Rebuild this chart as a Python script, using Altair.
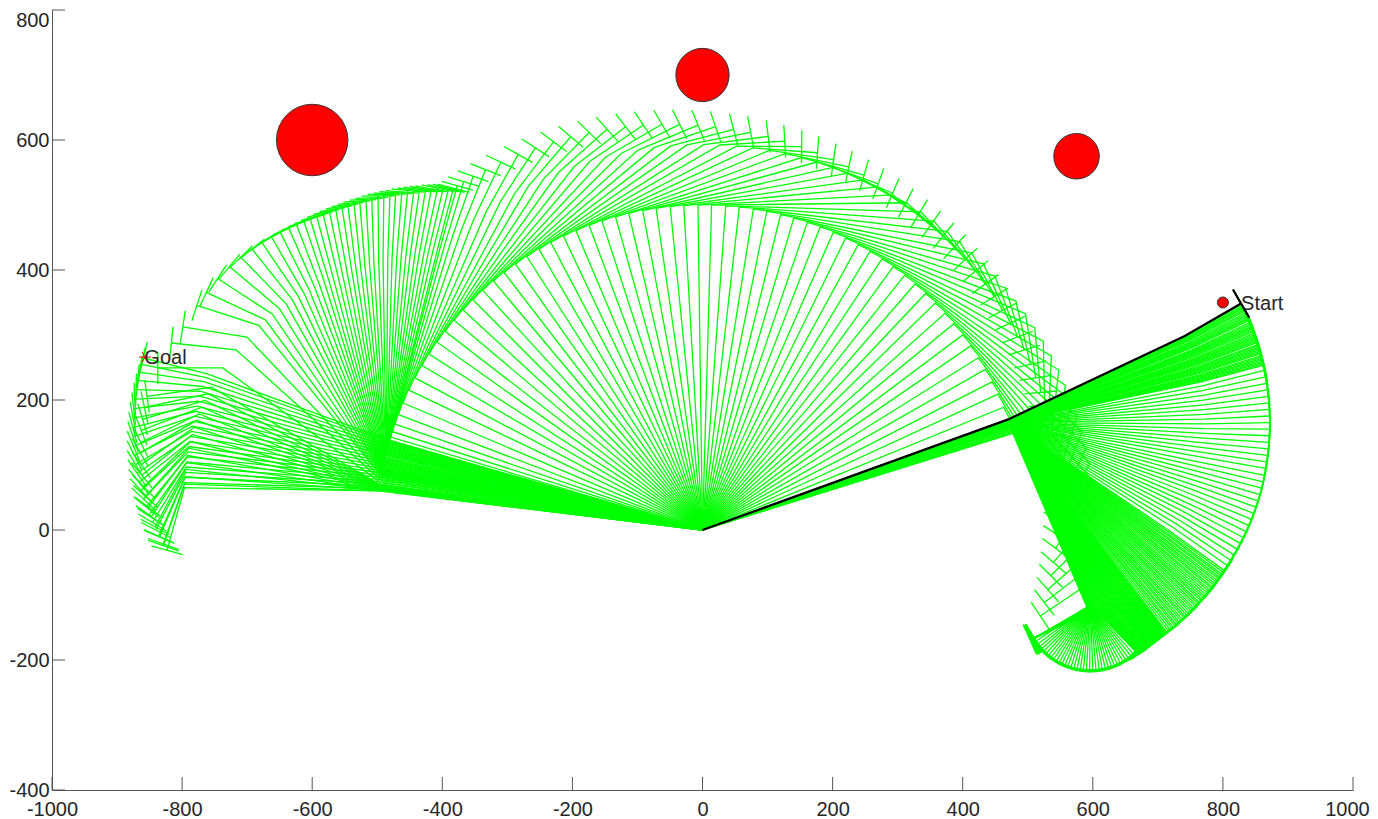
import math
import altair as alt
import pandas as pd

# Link lengths and bar half-length (data units)
L1, L2, L3, BAR = 500, 300, 100, 25

# Joint angles in degrees, pose by pose
# Sweep of link 2 and 3 with link 1 nearly fixed
th1_a = [19.9]*7+[19.8]*7+[19.7]*8+[19.6]*8+[19.5]*8+[19.4]*8
th2_a = [25.3,25.0,24.7,24.4,24.1,23.8,23.5,23.2,22.9,22.6,22.3,22.0,21.7,21.4,21.1,20.8,20.5,20.2,19.9,19.6,19.3,19.0,18.7,18.4,18.1,17.8,17.5,17.2,16.9,16.6,16.3,16.0,15.7,15.4,15.1,14.8,14.5,14.2,13.9,13.6,13.3,13.0,12.7,12.4,12.1,11.8]
th3_a = [30.0,29.7,29.3,29.0,28.7,28.3,28.0,27.7,27.3,27.0,26.7,26.3,26.0,25.7,25.3,25.0,24.7,24.3,24.0,23.7,23.3,23.0,22.7,22.3,22.0,21.7,21.3,21.0,20.7,20.3,20.0,19.7,19.3,19.0,18.7,18.3,18.0,17.7,17.3,17.0,16.7,16.3,16.0,15.7,15.3,15.0]

th1_b = [19.3]*16+[19.2]*17
th2_b = [10.8,9.4,8.0,6.6,5.2,3.8,2.4,1.0,-0.4,-1.8,-3.2,-4.6,-6.0,-7.4,-8.8,-10.2,-11.6,-13.0,-14.4,-15.8,-17.2,-18.6,-20.0,-21.4,-22.8,-24.2,-25.6,-27.0,-28.4,-29.8,-31.2,-32.6,-34.0]
th3_b = [14.0,12.4,10.8,9.2,7.6,6.0,4.4,2.8,1.2,-0.4,-2.0,-3.6,-5.2,-6.8,-8.4,-10.0,-11.6,-13.2,-14.8,-16.4,-18.0,-19.6,-21.2,-22.8,-24.4,-26.0,-27.6,-29.2,-30.8,-32.4,-33.8,-35.0,-36.0]

th1_c = [19.1]*14+[19.0]*14+[18.9]*14
th2_c = [-34.4,-34.9,-35.3,-35.8,-36.2,-36.7,-37.1,-37.6,-38.0,-38.5,-38.9,-39.4,-39.8,-40.3,-40.7,-41.2,-41.6,-42.1,-42.5,-43.0,-43.4,-43.9,-44.3,-44.8,-45.2,-45.7,-46.1,-46.6,-47.0,-47.5,-47.9,-48.4,-48.8,-49.3,-49.7,-50.2,-50.6,-51.1,-51.5,-52.0,-52.5,-53.0]
th3_c = [-36.4,-36.8,-37.2,-37.6,-38.0,-38.4,-38.8,-39.2,-39.7,-40.1,-40.5,-40.9,-41.3,-41.7,-42.1,-42.5,-42.9,-43.3,-43.7,-44.1,-44.5,-44.9,-45.3,-45.7,-46.1,-46.5,-46.9,-47.3,-47.8,-48.2,-48.6,-49.0,-49.4,-49.8,-50.2,-50.6,-51.0,-51.4,-51.8,-52.2,-52.6,-53.0]

th1_d = [18.8]*18+[18.7]*19+[18.6]*19
th2_d = [-53.2,-53.5,-53.7,-53.9,-54.2,-54.4,-54.6,-54.9,-55.1,-55.3,-55.6,-55.8,-56.0,-56.3,-56.5,-56.7,-57.0,-57.2,-57.4,-57.7,-57.9,-58.1,-58.4,-58.6,-58.8,-59.1,-59.3,-59.5,-59.8,-60.0,-60.2,-60.5,-60.7,-60.9,-61.2,-61.4,-61.6,-61.9,-62.1,-62.3,-62.6,-62.8,-63.0,-63.3,-63.5,-63.7,-64.0,-64.2,-64.4,-64.7,-64.9,-65.1,-65.4,-65.6,-65.8,-66.0]
th3_d = [-52.9,-52.8,-52.6,-52.5,-52.4,-52.3,-52.1,-52.0,-51.9,-51.8,-51.6,-51.5,-51.4,-51.3,-51.1,-51.0,-50.9,-50.8,-50.6,-50.5,-50.4,-50.3,-50.1,-50.0,-49.9,-49.8,-49.6,-49.5,-49.4,-49.3,-49.1,-49.0,-48.9,-48.8,-48.6,-48.5,-48.4,-48.3,-48.1,-48.0,-47.9,-47.8,-47.6,-47.5,-47.4,-47.3,-47.1,-47.0,-46.9,-46.8,-46.6,-46.5,-46.4,-46.3,-46.1,-46.0]

# Fan of link 3 at the lowest point
th3_e = [-48.8,-51.6,-54.4,-57.2,-59.9,-62.7,-65.5,-68.3,-71.1,-73.9,-76.7,-79.4,-82.2,-85.0,-87.8,-90.6,-93.4,-96.2,-98.9,-101.7,-104.5,-107.3,-110.1,-112.9,-115.7,-118.4,-121.2,-124.0,-126.8,-129.6,-132.4,-135.2,-137.9,-140.7,-143.5,-146.3,-149.0,-149.8,-150.6,-151.4,-152.2,-153.0,-154.0,-155.0,-156.0]
th1_e = [18.5]*37+[18.4,18.3,18.1,17.9,17.7,17.5,17.4,17.3]
th2_e = [-66.0]*37+[-66.1,-66.2,-66.3,-66.5,-66.6,-66.8,-66.9,-67.0]

# Big swing of link 1 over the top
th1_f = [22.2,24.7,27.1,29.6,32.0,34.5,36.9,39.4,41.8,44.3,46.7,49.2,51.6,54.1,56.5,59.0,61.4,63.9,66.3,68.8,71.2,73.7,76.1,78.6,81.0,83.5,85.9,88.4,90.8,93.3,95.7,98.2,100.6,103.1,105.5,108.0,110.4,112.9,115.3,117.8,120.2,122.7,125.1,127.6,130.0,132.5,134.9,137.4,139.8,142.3,144.7,147.2,149.6,152.1,154.5,157.0,159.2,161.0,162.4,163.4,164.0]
th2_f = [-62.3,-59.9,-57.6,-55.2,-52.9,-50.5,-48.2,-45.8,-43.6,-41.2,-39.0,-36.6,-34.4,-32.0,-29.8,-27.4,-25.2,-22.8,-20.6,-18.2,-16.0,-13.6,-11.4,-8.9,-6.6,-4.1,-1.8,0.7,3.0,5.5,7.9,10.4,12.8,15.3,17.7,20.2,22.6,25.1,27.5,30.0,32.4,34.9,37.3,39.8,42.2,44.7,47.1,49.6,52.0,54.5,56.9,59.4,61.7,64.2,66.6,69.0,71.2,73.0,74.4,75.4,76.0]
th3_f = [-146.3,-142.4,-138.6,-134.8,-131.0,-127.1,-123.3,-119.4,-115.6,-111.7,-108.0,-104.0,-100.3,-96.3,-92.6,-88.7,-84.9,-81.0,-77.2,-73.3,-69.6,-65.6,-61.9,-58.0,-54.2,-50.3,-46.5,-42.6,-38.9,-35.0,-31.2,-27.3,-23.5,-19.6,-15.8,-11.9,-8.2,-4.3,-0.5,3.4,7.2,11.1,14.8,18.8,22.5,26.4,30.2,34.1,37.8,41.7,45.5,49.4,53.2,57.1,60.8,64.7,68.2,71.0,73.2,74.6,75.5]

# Sweep towards the goal side
th1_g = [164.2,164.4,164.6,164.9,165.1,165.3,165.5,165.7,166.0,166.2,166.4,166.6,166.8,167.1,167.3,167.5,167.7,167.9,168.1,168.3,168.5,168.7,168.9,169.1,169.2,169.3,169.4,169.6,169.7,169.8,169.9,170.0,170.1,170.3,170.5,170.6,170.9,171.2,171.6,172.0]
th2_g = [77.2,78.4,79.6,80.9,82.1,83.4,84.6,85.9,87.1,88.4,89.6,90.9,92.1,93.4,94.6,95.9,97.1,98.4,99.6,100.9,102.2,103.5,104.8,106.1,107.4,108.9,110.4,112.0,113.7,115.5,117.4,119.5,121.8,124.2,126.6,129.0,133.5,138.0,144.0,150.0]
th3_g = [75.8,76.9,78.1,79.3,80.5,81.8,83.0,84.3,85.5,86.8,88.0,89.3,90.6,91.9,93.2,94.6,95.9,97.3,98.7,100.2,101.8,103.4,105.0,106.8,108.6,111.0,113.6,116.6,120.0,124.0,128.5,134.0,140.0,147.0,155.0,162.0,171.0,174.0,180.0,188.0]

th1_h = [172.1,172.2,172.3,172.4,172.4,172.5,172.6,172.7,172.7,172.8,172.9,172.9,173.0,173.1,173.1]
th2_h = [152.0,154.0,156.0,158.0,160.0,162.0,164.0,166.0,168.0,170.0,172.0,174.0,176.0,178.0,179.0]
th3_h = [192.0,197.0,201.0,206.0,210.0,215.0,219.0,224.0,228.0,233.0,237.0,242.0,246.0,251.0,254.5]

th1_i = [172.7,172.3,171.9,171.5,171.1,170.7,170.3,169.9,169.5,169.1,168.7,168.3,167.9,167.5,167.1,166.7,166.3,165.9,165.5,165.1,164.7,164.3,164.0]
th2_i = [178.2,177.3,176.5,175.6,174.8,173.9,173.1,172.2,171.4,170.5,169.7,168.8,168.0,167.1,166.3,165.4,164.6,163.7,162.9,162.1,161.3,160.6,160.0]
th3_i = [250.6,246.6,242.6,238.6,234.6,230.6,226.6,222.6,218.6,214.6,210.6,206.6,202.6,198.6,194.6,190.6,186.6,182.6,178.6,174.6,171.5,168.5,166.0]

# Final pose drawn in black
black_pose = (19.9, 25.3, 30.0)

# Obstacles and markers
obs_x = [-600, 0, 575, 800]
obs_y = [600, 700, 575, 350]
obs_r = [55, 41, 35, 8.5]
label_text = ["Start", "Goal"]
label_x = [828, -858]
label_y = [348, 264]
goal_x = [-857]
goal_y = [266]
x_ticks = [-1000, -800, -600, -400, -200, 0, 200, 400, 600, 800, 1000]
y_ticks = [-400, -200, 0, 200, 400, 600, 800]

th1 = th1_a + th1_b + th1_c + th1_d + th1_e + th1_f + th1_g + th1_h + th1_i
th2 = th2_a + th2_b + th2_c + th2_d + th2_e + th2_f + th2_g + th2_h + th2_i
th3 = th3_a + th3_b + th3_c + th3_d + th3_e + th3_f + th3_g + th3_h + th3_i
assert len(th1) == len(th2) == len(th3), (len(th1), len(th2), len(th3))


def pose_rows(pid, a, b, c):
    ra, rb, rc = math.radians(a), math.radians(b), math.radians(c)
    x1, y1 = L1 * math.cos(ra), L1 * math.sin(ra)
    x2, y2 = x1 + L2 * math.cos(rb), y1 + L2 * math.sin(rb)
    x3, y3 = x2 + L3 * math.cos(rc), y2 + L3 * math.sin(rc)
    dx, dy = -BAR * math.sin(rc), BAR * math.cos(rc)
    arm = [(0, 0), (x1, y1), (x2, y2), (x3, y3)]
    rows = [{"id": f"{pid}a", "k": i, "x": p[0], "y": p[1]} for i, p in enumerate(arm)]
    rows += [
        {"id": f"{pid}b", "k": 0, "x": x3 - dx, "y": y3 - dy},
        {"id": f"{pid}b", "k": 1, "x": x3 + dx, "y": y3 + dy},
    ]
    return rows


green_rows = []
for i, (a, b, c) in enumerate(zip(th1, th2, th3)):
    green_rows += pose_rows(i, a, b, c)
green_df = pd.DataFrame(green_rows)
black_df = pd.DataFrame(pose_rows("end", *black_pose))

alt.data_transformers.disable_max_rows()

x_scale = alt.Scale(domain=[-1000, 1000], nice=False, zero=False)
y_scale = alt.Scale(domain=[-400, 800], nice=False, zero=False)
FONT = "Liberation Sans"
AXIS_COLOR = "#555555"
TEXT_COLOR = "#262626"

xq = alt.X("x:Q", scale=x_scale, axis=alt.Axis(
    values=x_ticks, title=None, grid=False, ticks=False, domainColor=AXIS_COLOR, domainWidth=1,
    labelFont=FONT, labelFontSize=20, labelColor=TEXT_COLOR, labelPadding=9, labelOverlap=False,
    labelFlush=False, labelExpr="'' + datum.value",
    labelOffset=alt.ExprRef("datum.value == 1000 ? -6 : 0")))
yq = alt.Y("y:Q", scale=y_scale, axis=alt.Axis(
    values=y_ticks, title=None, grid=False, ticks=False, domainColor=AXIS_COLOR, domainWidth=1,
    labelFont=FONT, labelFontSize=20, labelColor=TEXT_COLOR, labelPadding=3, labelOverlap=False,
    labelFlush=False, labelExpr="'' + datum.value",
    labelBaseline=alt.ExprRef("datum.value == 800 ? 'top' : 'middle'")))

green = alt.Chart(green_df).mark_line(color="#00ff00", strokeWidth=1.3, clip=False).encode(
    x=xq, y=yq, detail="id:N", order="k:Q")
black = alt.Chart(black_df).mark_line(color="#000000", strokeWidth=2.2).encode(
    x=alt.X("x:Q", scale=x_scale), y=alt.Y("y:Q", scale=y_scale), detail="id:N", order="k:Q")

TICK_X = 20
TICK_Y = 20
xtick_df = pd.DataFrame({"x": x_ticks, "y": [-400] * len(x_ticks), "y2": [-400 + TICK_Y] * len(x_ticks)})
ytick_df = pd.DataFrame({"y": y_ticks, "x": [-1000] * len(y_ticks), "x2": [-1000 + TICK_X] * len(y_ticks)})
xticks = alt.Chart(xtick_df).mark_rule(color=AXIS_COLOR, strokeWidth=1).encode(
    x=alt.X("x:Q", scale=x_scale), y=alt.Y("y:Q", scale=y_scale), y2="y2:Q")
yticks = alt.Chart(ytick_df).mark_rule(color=AXIS_COLOR, strokeWidth=1).encode(
    x=alt.X("x:Q", scale=x_scale), x2="x2:Q", y=alt.Y("y:Q", scale=y_scale))

obs_df = pd.DataFrame({"x": obs_x, "y": obs_y, "s": [(2 * r * 0.65) ** 2 for r in obs_r]})
circles = alt.Chart(obs_df).mark_point(
    filled=True, fill="#ff0000", stroke="#333333", strokeWidth=1, opacity=1, shape="circle"
).encode(x=alt.X("x:Q", scale=x_scale), y=alt.Y("y:Q", scale=y_scale), size=alt.Size("s:Q", scale=None))

goal_df = pd.DataFrame({"x": goal_x, "y": goal_y})
goal = alt.Chart(goal_df).mark_point(
    shape="M-1,0L1,0M-0.5,-0.87L0.5,0.87M-0.5,0.87L0.5,-0.87", size=144, filled=False,
    stroke="#ff0000", strokeWidth=1, opacity=1
).encode(x=alt.X("x:Q", scale=x_scale), y=alt.Y("y:Q", scale=y_scale))

label_df = pd.DataFrame({"x": label_x, "y": label_y, "t": label_text})
labels = alt.Chart(label_df).mark_text(
    align="left", baseline="middle", font=FONT, fontSize=20, color=TEXT_COLOR
).encode(x=alt.X("x:Q", scale=x_scale), y=alt.Y("y:Q", scale=y_scale), text="t:N")

chart = alt.layer(green, xticks, yticks, circles, goal, black, labels).properties(
    width=1301, height=780,
    autosize=alt.AutoSizeParams(type="none"),
    padding={"left": 44, "top": 2, "right": 17, "bottom": 29},
    background="white",
).configure_view(stroke=None)

chart.save("out.html", embed_options={"renderer": "svg", "actions": False})
